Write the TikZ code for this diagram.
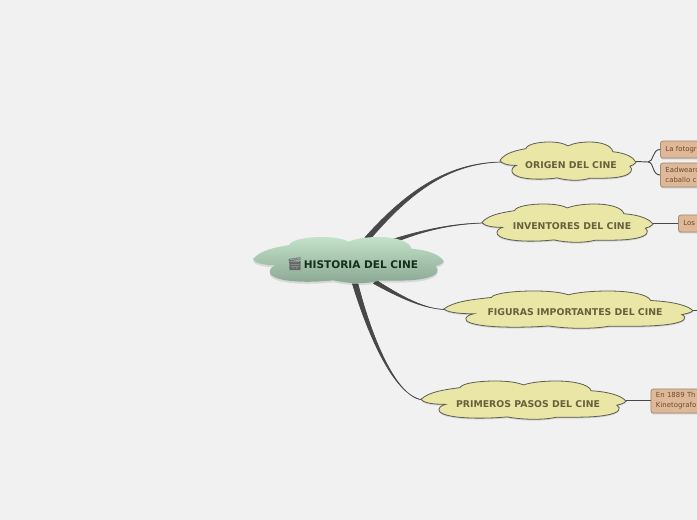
\documentclass[tikz,border=0pt]{standalone}
\usepackage{fontspec}
\setmainfont{DejaVu Sans}
\usetikzlibrary{calc}
\definecolor{bgc}{HTML}{F1F1F1}
\definecolor{conn}{HTML}{484848}
\definecolor{yel}{HTML}{E9E6A6}
\definecolor{yelline}{HTML}{5E5E52}
\definecolor{yeltext}{HTML}{66613C}
\definecolor{leaf}{HTML}{DFB897}
\definecolor{leafline}{HTML}{A08C78}
\definecolor{leaftext}{HTML}{6B4A30}
\definecolor{gtop}{HTML}{C4E1C9}
\definecolor{gbot}{HTML}{89A792}
\definecolor{htext}{HTML}{12321E}
\newcommand\cloudshape{(0,.47) .. controls (.04,.27) and (.12,.22) .. (.19,.17) .. controls (.2,.05) and (.29,0) .. (.36,0) .. controls (.43,0) and (.47,.04) .. (.5,.1) .. controls (.54,.03) and (.6,0) .. (.66,0) .. controls (.74,0) and (.82,.08) .. (.83,.25) .. controls (.92,.28) and (.98,.38) .. (1,.52) .. controls (.99,.58) and (.97,.6) .. (.955,.62) .. controls (.98,.7) and (.97,.82) .. (.9,.88) .. controls (.82,.95) and (.72,.92) .. (.66,.93) .. controls (.6,1) and (.5,1) .. (.42,.92) .. controls (.3,.98) and (.12,.97) .. (.09,.78) .. controls (.08,.7) and (.1,.62) .. (.12,.6) .. controls (.05,.6) and (.01,.55) .. (0,.47) -- cycle}
% #1 name, #2-#5 bounding box in px, #6 text x, #7 text y, #8 text
\newcommand\ideacloud[8]{%
  \pgfmathsetmacro\cw{(#4-#2)*0.75}\pgfmathsetmacro\ch{(#5-#3)*0.75}%
  \begin{scope}[shift={(#2,#3)},x=\cw pt,y=-\ch pt]
    \fill[black,opacity=.12] [yshift=-1pt] \cloudshape;
    \draw[cloudline] \cloudshape;
  \end{scope}
  \node[anchorbox,minimum width=\cw pt,minimum height=\ch pt] (#1) at ({(#2+#4)/2},{(#3+#5)/2}) {};
  \node[ideatext] (#1T) at (#6,#7) {#8};
}
\tikzset{
  cloudline/.style={fill=yel,draw=yelline,line width=.6pt},
  anchorbox/.style={inner sep=0pt,outer sep=0pt},
  ideatext/.style={font=\fontsize{7pt}{8pt}\selectfont\bfseries,text=yeltext,inner sep=0pt},
  leafbox/.style={rectangle,rounded corners=2pt,fill=leaf,draw=leafline,line width=.6pt,anchor=west,
    inner xsep=3.8pt,inner ysep=0pt,text=leaftext,
    font=\fontsize{5.2pt}{7.4pt}\selectfont},
  leaftxt/.style={align=left,text width=60pt},
  thin conn/.style={draw=conn,line width=.7pt},
  taper/.style={fill=conn,draw=conn,line width=.5pt}
}
\begin{document}
\begin{tikzpicture}[x=0.75pt,y=-0.75pt]
\clip (0,0) rectangle (697,520);
\fill[bgc] (0,0) rectangle (697,520);

% anchor points
\coordinate (sO) at (367,239);
\coordinate (sI) at (394,241);
\coordinate (sF) at (375,282);
\coordinate (sP) at (355,284);

% leaves
\foreach \nm/\xx/\yy/\hh/\tx in {
  l1/660/149.5/17/{La fotogr},
  l2/660/175/24/{Eadweard\\caballo c},
  l3/678/223.5/17/{Los},
  l4/650.5/401/24/{En 1889 Th\\Kinetografo}}{
  \node[leafbox,leaftxt,fill=black!45,draw=none,opacity=.35,minimum height=\hh*0.75pt] at (\xx,\yy+1.5) {};
  \node[leafbox,leaftxt,minimum height=\hh*0.75pt] (\nm) at (\xx,\yy) {\tx};
}

% central topic connectors (tapered)
\coordinate (tO) at (502,162);
\coordinate (tI) at (484,223);
\coordinate (tF) at (447,309.5);
\coordinate (tP) at (424,400);
\fill[taper] ($(sO)+(-2,-1.5)$) .. controls (408,189) and (450,162.5) .. (tO) .. controls (450,163) and (411,191) .. ($(sO)+(2,1.5)$) -- cycle;
\fill[taper] ($(sI)+(-.5,-2)$) .. controls (420,231) and (450,223.5) .. (tI) .. controls (450,224) and (421,231.5) .. ($(sI)+(.5,1.5)$) -- cycle;
\fill[taper] ($(sF)+(-1.5,1.5)$) .. controls (400,298) and (425,309.5) .. (tF) .. controls (425,310) and (401,296) .. ($(sF)+(1.5,-1.5)$) -- cycle;
\fill[taper] ($(sP)+(-2.5,0)$) .. controls (368,335) and (395,398) .. (tP) .. controls (396,399.5) and (371,335) .. ($(sP)+(3,0)$) -- cycle;

% idea clouds
\ideacloud{ori}{500}{142}{636}{181}{571}{165}{ORIGEN DEL CINE}
\ideacloud{inv}{482}{204}{653}{243}{572}{226.5}{INVENTORES DEL CINE}
\ideacloud{fig}{444}{291}{693}{329}{575}{312.5}{FIGURAS IMPORTANTES DEL CINE}
\ideacloud{pri}{421}{381}{626}{420}{528}{404.5}{PRIMEROS PASOS DEL CINE}

% leaf connectors
\coordinate (jO) at (648,162);
\draw[thin conn] (ori.east) -- (jO);
\draw[thin conn] (jO) .. controls (654,162) and (652,149.5) .. (l1.west);
\draw[thin conn] (jO) .. controls (654,162) and (652,175) .. (l2.west);
\draw[thin conn] (inv.east) -- (inv.east -| l3.west);
\draw[thin conn] (pri.east) -- (pri.east -| l4.west);
\coordinate (eF) at (697,310);
\draw[thin conn] (fig.east) -- (eF);

% central topic
\begin{scope}[shift={(253,237)},x=143.25pt,y=-35.25pt]
  \fill[black,opacity=.10] [yshift=-1.5pt] \cloudshape;
  \shade[top color=gtop,bottom color=gbot] \cloudshape;
\end{scope}
\node[anchorbox,minimum width=143.25pt,minimum height=35.25pt] (hist) at (348.5,260.5) {};
\node[inner sep=0pt,text=htext,font=\fontsize{7.9pt}{9pt}\selectfont\bfseries] (histT) at (361,264.5) {HISTORIA DEL CINE};
% clapperboard icon
\node[inner sep=0pt,text=black!60,font=\fontsize{9.5pt}{10pt}\selectfont] (icon) at (295,264.5) {\fontspec{Noto Emoji}🎬};
\end{tikzpicture}
\end{document}
